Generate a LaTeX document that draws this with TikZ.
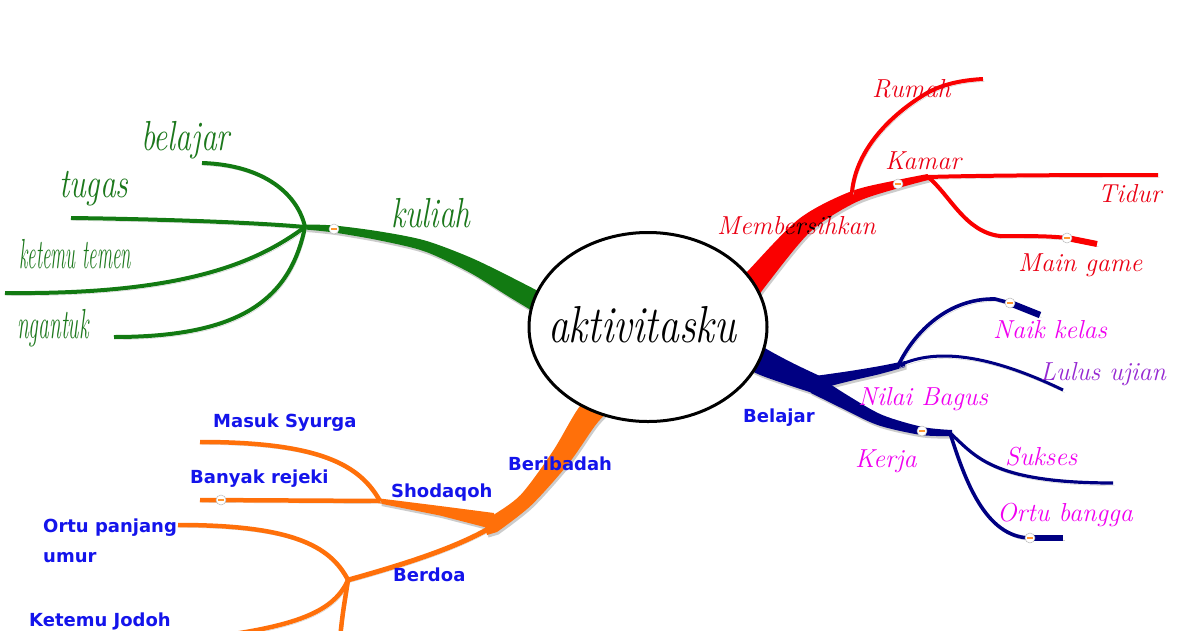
\documentclass[tikz,border=0pt]{standalone}
\usepackage{fontspec}
\usetikzlibrary{shapes.geometric}
\newfontfamily\comicf{DejaVu Sans}
\definecolor{grn}{RGB}{18,122,18}
\definecolor{grntext}{RGB}{28,120,28}
\definecolor{rd}{RGB}{250,0,0}
\definecolor{rdtext}{RGB}{235,0,20}
\definecolor{nv}{RGB}{0,0,130}
\definecolor{mag}{RGB}{240,0,240}
\definecolor{purp}{RGB}{150,40,210}
\definecolor{org}{RGB}{255,112,10}
\definecolor{bltext}{RGB}{20,20,235}
\tikzset{
  shd/.style={preaction={draw=gray!40, transform canvas={shift={(1.5pt,-2.5pt)}}}},
  fshd/.style={preaction={fill=gray!40, transform canvas={shift={(1.5pt,-2.5pt)}}}},
  gline/.style={draw=grn, line width=4pt, shd},
  rline/.style={draw=rd, line width=4pt, shd},
  nline/.style={draw=nv, line width=3.6pt, shd},
  oline/.style={draw=org, line width=4.5pt, shd},
  bulb/.style={circle, minimum size=10pt, inner sep=0pt, fill=white, draw=gray!55, line width=.5pt,
    path picture={\draw[orange!80, line width=1.3pt] ([xshift=-3pt]path picture bounding box.center) -- ([xshift=3pt]path picture bounding box.center);}},
  hand/.style={text=grntext, font=\fontsize{42}{44}\selectfont\itshape, inner sep=0pt, anchor=base west, xscale=.75},
  callig/.style={font=\fontsize{26}{28}\selectfont\itshape, inner sep=0pt, anchor=base west},
  comic/.style={text=bltext, font=\comicf\bfseries\fontsize{18}{20}\selectfont, inner sep=0pt, anchor=base west},
}
\def\redtrunk{plot[smooth] coordinates {(729.7,291.9) (749.3,269.5) (799.5,218.5) (850.6,191.5) (897,180.1) (927.7,174)}
  -- plot[smooth] coordinates {(928.3,180) (899,187.9) (855.4,202.5) (810.5,231.5) (766.7,284.5) (750.3,308.1)} -- cycle}
\begin{document}
\begin{tikzpicture}[x=1pt,y=-1pt]
\useasboundingbox (0,0) rectangle (1200,630);
\clip (0,0) rectangle (1200,630);
\fill[white] (0,0) rectangle (1200,630);

% ---------- junctions ----------
\coordinate (gj) at (305,227);
\coordinate (rj) at (928,177);
\coordinate (rk) at (852,192);
\coordinate (nj) at (898,366);
\coordinate (kj) at (950,433);
\coordinate (oj) at (490,528);
\coordinate (sj) at (380,501);
\coordinate (dj) at (348,580);

% ---------- green ----------
\fill[grn, fshd] plot[smooth] coordinates {(305,224.5) (334,225.5) (380,231.5) (425,240.5) (470,257.3) (510,276.6) (560,302.4)}
  -- plot[smooth] coordinates {(560,327.6) (510,297.4) (470,272.7) (425,251.5) (380,240.5) (334,232.5) (305,229.5)} -- cycle;
\draw[gline] (gj) .. controls (298,195) and (265,165) .. (202,163);
\draw[gline] (gj) .. controls (250,222) and (150,219) .. (71,218);
\draw[gline] (gj) .. controls (260,260) and (190,295) .. (5,293);
\draw[gline] (gj) .. controls (290,300) and (240,337) .. (114,337);
\node[bulb] (gb) at (334,229) {};

% ---------- red ----------
\fill[rd, fshd] \redtrunk;
\draw[rline] (rk) .. controls (856,150) and (890,115) .. (927,93) .. controls (945,83) and (965,80) .. (983,79);
\draw[rline] (rj) .. controls (1000,175) and (1100,175) .. (1158,175);
\draw[rline] (rj) .. controls (950,195) and (965,232) .. (1000,236) .. controls (1030,236) and (1050,236) .. (1067,238);
\coordinate (me) at (1097,244);
\draw[draw=rd, line width=6pt, shd] (1067,238) -- (me);
\node[bulb] (rb1) at (898,184) {};
\node[bulb] (rb2) at (1067,238) {};

% ---------- navy ----------
\fill[nv, fshd] plot[smooth] coordinates {(750.7,339.3) (770.3,351.2) (794.5,364) (823.7,377.8)}
  -- plot[smooth] coordinates {(816.3,394.2) (785.5,384) (759.7,374.8) (739.3,364.7)} -- cycle;
\fill[nv, fshd] plot[smooth] coordinates {(815,376) (850,371) (880,366) (905,361)}
  -- plot[smooth] coordinates {(905,367) (880,374) (850,381) (815,390)} -- cycle;
\fill[nv, fshd] plot[smooth] coordinates {(819.4,377.2) (848.7,396) (882.1,414.9) (922.6,427) (952,430)}
  -- plot[smooth] coordinates {(952,436) (921.4,435) (877.9,425.1) (841.3,408) (810.6,392.8)} -- cycle;
\draw[nline] (nj) .. controls (915,330) and (950,298) .. (995,299) -- (1010,303);
\coordinate (ne) at (1040,315);
\draw[draw=nv, line width=6.5pt, shd] (1010,303) -- (ne);
\draw[nline, line width=3pt] (nj) .. controls (930,350) and (980,350) .. (1063,390);
\draw[nline, line width=3.2pt] (kj) .. controls (975,455) and (990,483) .. (1113,483);
\draw[nline] (kj) .. controls (965,480) and (985,537) .. (1030,538);
\coordinate (oe) at (1063,538);
\draw[draw=nv, line width=6.5pt, shd] (1030,538) -- (oe);
\node[bulb] (nb1) at (1010,303) {};
\node[bulb] (nb2) at (922,431) {};
\node[bulb] (nb3) at (1030,538) {};

% ---------- orange ----------
\fill[org, fshd] plot[smooth] coordinates {(380,498.5) (440,506) (494,513)}
  -- (496,530) -- plot[smooth] coordinates {(440,515.5) (380,503.5)} -- cycle;
\draw[oline, line width=5pt] (oj) .. controls (460,545) and (420,560) .. (dj);
\fill[org, fshd] plot[smooth] coordinates {(606.8,381.2) (579.8,406.3) (552.9,451.1) (520.7,494.8) (492,516) (484,522)}
  -- (487,535) -- plot[smooth] coordinates {(497,532) (531.3,505.2) (569.1,462.9) (598.2,421.7) (623.2,398.8)} -- cycle;
\draw[oline] (sj) .. controls (360,465) and (320,442) .. (200,442);
\draw[oline] (sj) -- (200,500);
\draw[oline] (dj) .. controls (330,545) and (290,525) .. (178,525);
\draw[oline] (dj) .. controls (335,610) and (300,625) .. (220,636);
\draw[oline] (dj) .. controls (345,600) and (342,615) .. (340,640);
\node[bulb] (ob) at (221,500) {};

% ---------- centre ----------
\node[draw=black, line width=3pt, fill=white, ellipse, minimum width=238pt, minimum height=189pt, inner sep=0pt] (c) at (648,327) {};
\node[text=black, font=\fontsize{52}{54}\selectfont\itshape, inner sep=0pt, anchor=base west, xscale=.8] (ct) at (548,342) {aktivitasku};

% ---------- green labels ----------
\node[hand] (t1) at (141,150) {belajar};
\node[hand] (t2) at (59,197) {tugas};
\node[hand, xscale=.6] (t3) at (19,268) {ketemu temen};
\node[hand, xscale=.68] (t4) at (17,338) {ngantuk};
\node[hand] (t5) at (391,227) {kuliah};

% ---------- red labels ----------
\node[callig, text=rdtext] (r1) at (872,97) {Rumah};
\node[callig, text=rdtext] (r2) at (885,169) {Kamar};
\node[callig, text=rdtext] (r3) at (1098,202) {Tidur};
\node[callig, text=rdtext] (r4) at (717,234) {Membersihkan};
\begin{scope}
  \clip \redtrunk;
  \node[callig, text=black] (r4b) at (717,234) {Membersihkan};
\end{scope}
\node[callig, text=rdtext] (r5) at (1018,271) {Main game};

% ---------- navy labels ----------
\node[comic] (b0) at (743,422) {Belajar};
\node[callig, text=mag] (b1) at (993,338) {Naik kelas};
\node[callig, text=purp] (b2) at (1040,380) {Lulus ujian};
\node[callig, text=mag] (b3) at (858,405) {Nilai Bagus};
\node[callig, text=mag] (b4) at (1005,465) {Sukses};
\node[callig, text=mag] (b5) at (855,467) {Kerja};
\node[callig, text=mag] (b6) at (997,521) {Ortu bangga};

% ---------- orange labels ----------
\node[comic] (o1) at (213,427) {Masuk Syurga};
\node[comic] (o2) at (190,483) {Banyak rejeki};
\node[comic] (o3) at (391,497) {Shodaqoh};
\node[comic] (o4) at (508,470) {Beribadah};
\node[comic] (o5) at (43,532) {Ortu panjang};
\node[comic] (o6) at (43,562) {umur};
\node[comic] (o7) at (393,581) {Berdoa};
\node[comic] (o8) at (29,626) {Ketemu Jodoh};
\end{tikzpicture}
\end{document}
